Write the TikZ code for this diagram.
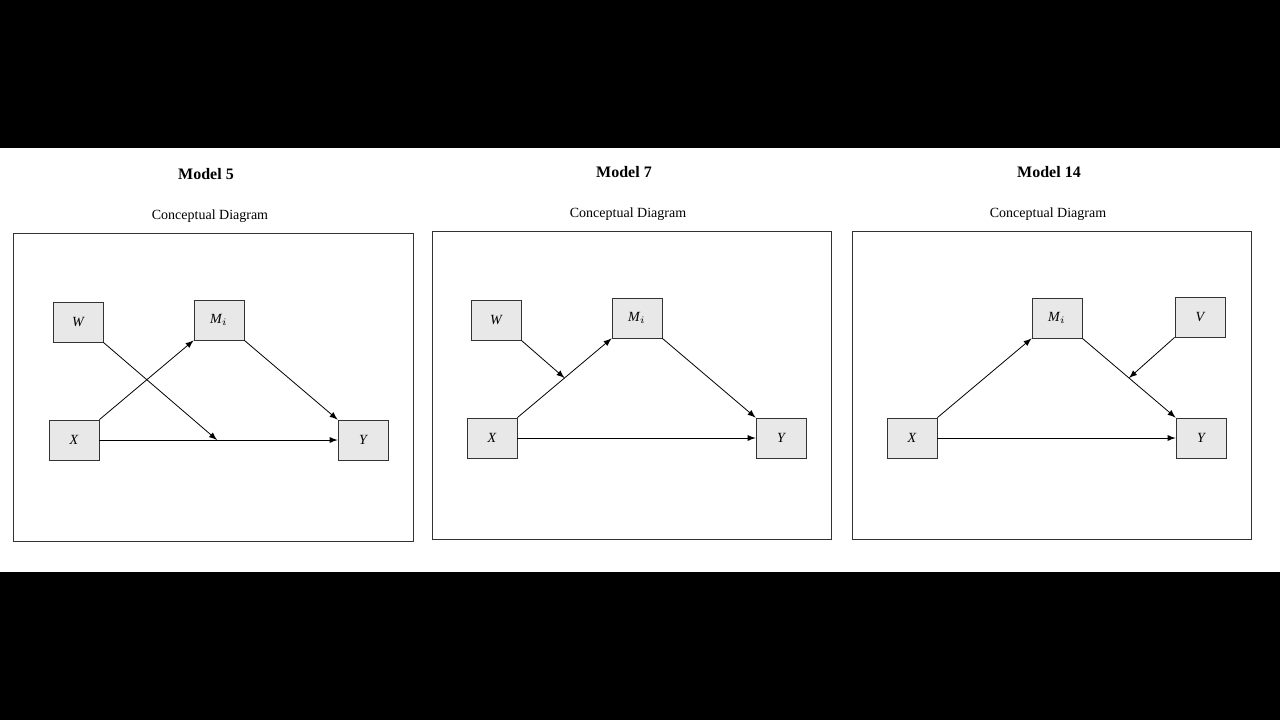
\documentclass[tikz,border=0pt]{standalone}
\usepackage{fontspec}
\setmainfont{Liberation Serif}
\usetikzlibrary{calc}
\begin{document}
\begin{tikzpicture}[x=0.5pt,y=-0.5pt,
  var/.style={draw=black!80,fill=black!9,minimum width=25pt,minimum height=20pt,inner sep=0pt,font=\fontsize{7}{8}\selectfont\itshape},
  panel/.style={draw=black!80,line width=0.4pt},
  ttl/.style={font=\fontsize{8}{9}\selectfont\bfseries},
  sub/.style={font=\fontsize{7}{8}\selectfont},
  arr/.style={-latex,line width=0.4pt}]
\fill[black] (0,0) rectangle (1280,720);
\fill[white] (0,148) rectangle (1280,572);
% Panel 1
\draw[panel] (13,233) rectangle (413,541);
\node[ttl] (t1) at (206,174) {Model 5};
\node[sub] (s1) at (210,216) {Conceptual Diagram};
\node[var] (w1) at (78,322) {W};
\node[var] (m1) at (219,320) {M$_i$};
\node[var] (x1) at (74,440) {X};
\node[var] (y1) at (363,440) {Y};
\coordinate (p1) at (217,440);
\draw[arr] (x1.north east) -- (m1.south west);
\draw[arr] (x1) -- (y1);
\draw[arr] (w1.south east) -- (p1);
\draw[arr] (m1.south east) -- (y1.north west);
% Panel 2
\draw[panel] (432,231) rectangle (831,539);
\node[ttl] (t2) at (624,172) {Model 7};
\node[sub] (s2) at (628,214) {Conceptual Diagram};
\node[var] (w2) at (496,320) {W};
\node[var] (m2) at (637,318) {M$_i$};
\node[var] (x2) at (492,438) {X};
\node[var] (y2) at (781,438) {Y};
\coordinate (p2) at ($(x2.north east)!0.5!(m2.south west)$);
\draw[arr] (x2.north east) -- (m2.south west);
\draw[arr] (x2) -- (y2);
\draw[arr] (w2.south east) -- (p2);
\draw[arr] (m2.south east) -- (y2.north west);
% Panel 3
\draw[panel] (852,231) rectangle (1251,539);
\node[ttl] (t3) at (1049,172) {Model 14};
\node[sub] (s3) at (1048,214) {Conceptual Diagram};
\node[var] (m3) at (1057,318) {M$_i$};
\node[var] (v3) at (1200,317) {V};
\node[var] (x3) at (912,438) {X};
\node[var] (y3) at (1201,438) {Y};
\coordinate (p3) at ($(m3.south east)!0.5!(y3.north west)$);
\draw[arr] (x3.north east) -- (m3.south west);
\draw[arr] (x3) -- (y3);
\draw[arr] (v3.south west) -- (p3);
\draw[arr] (m3.south east) -- (y3.north west);
\end{tikzpicture}
\end{document}
